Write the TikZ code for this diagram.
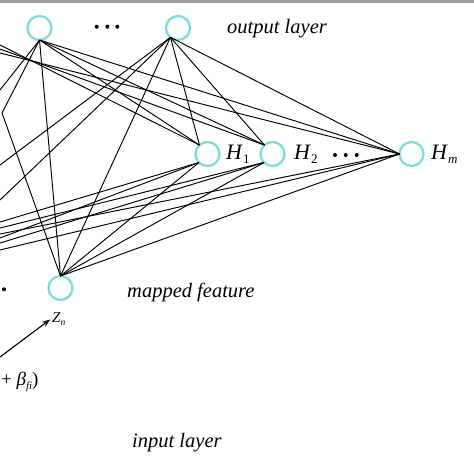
\documentclass[tikz,border=0pt]{standalone}
\usepackage{fontspec}
\setmainfont{Liberation Serif}
\usetikzlibrary{arrows.meta}
\definecolor{aqua}{RGB}{128,220,220}
\begin{document}
\begin{tikzpicture}[x=1pt,y=-1pt,
  neuron/.style={circle,draw=aqua,line width=2.3pt,minimum size=24pt,inner sep=0pt,outer sep=0pt,fill=white},
  conn/.style={line width=0.95pt,black},
  lbl/.style={font=\fontsize{20.5}{22}\selectfont\itshape,inner sep=0pt},
  hlbl/.style={font=\fontsize{22}{24}\selectfont,inner sep=0pt},
  dotmark/.style={black},
]
\useasboundingbox (0,0) rectangle (474,474);
\fill[white] (0,0) rectangle (474,474);
\fill[gray!75] (0,0) rectangle (474,2.5);
\clip (0,0) rectangle (474,474);
% neurons
\node[neuron] (O1) at (39.5,28) {};
\node[neuron] (O2) at (178,28) {};
\node[neuron] (H1) at (207.5,154) {};
\node[neuron] (H2) at (272.5,154) {};
\node[neuron] (Hm) at (411.5,154) {};
\node[neuron] (Zn) at (60.5,288) {};
% free ends at the picture's left edge
\coordinate (J) at (2,113);
\coordinate (L90) at (0,90);
\coordinate (E165) at (0,165);
\coordinate (E200) at (0,200);
\coordinate (T1) at (0,45);
\coordinate (T2) at (0,49);
\coordinate (T3) at (0,53);
\coordinate (B1) at (0,222);
\coordinate (B2) at (0,228);
\coordinate (B3) at (0,234);
\coordinate (B4) at (0,238);
\coordinate (B5) at (0,243);
\coordinate (B6) at (0,250);
% connectors
\foreach \a/\b in {O1.270/H1.132, O1.270/H2.132, O1.270/Hm.180, O1.270/Zn.90, O1.270/J, O1.270/L90,
  O2.231/H1.132, O2.231/H2.132, O2.231/Hm.180, O2.231/Zn.90, O2.231/E165, O2.231/E200,
  J/Zn.90, Zn.90/H1.225, Zn.90/H2.225, Zn.90/Hm.180,
  T1/H1.132, T2/H2.132, T3/Hm.180,
  B1/H1.225, B2/H2.225, B3/Hm.180, B4/H1.225, B5/H2.225, B6/Hm.180}
  \draw[conn] (\a) -- (\b);
% dots
\foreach \x/\y in {96.7/26.7, 107.3/26.7, 117.3/26.7, 335/155, 345.7/155, 356.7/155, 4/289.3}
  \fill[dotmark] (\x,\y) circle (2);
% labels
\node[lbl,anchor=base west] (outl) at (227,33) {output layer};
\node[lbl,anchor=base west] (mapl) at (127,297) {mapped feature};
\node[lbl,anchor=base west] (inl) at (132,447) {input layer};
\node[hlbl,anchor=base west] (h1l) at (226,159) {\textit{H}\raisebox{-4pt}{\fontsize{13}{13}\selectfont 1}};
\node[hlbl,anchor=base west] (h2l) at (294,159) {\textit{H}\raisebox{-4pt}{\fontsize{13}{13}\selectfont 2}};
\node[hlbl,anchor=base west] (hml) at (431,159) {\textit{H}\raisebox{-4pt}{\fontsize{13}{13}\selectfont\itshape m}};
\node[inner sep=0pt,anchor=base west,font=\fontsize{15}{17}\selectfont] (zl) at (52,322) {\textit{Z}\raisebox{-3pt}{\fontsize{9.5}{9.5}\selectfont\itshape n}};
\node[inner sep=0pt,anchor=base west,font=\fontsize{19}{21}\selectfont] (betal) at (1,385) {+ \textit{β}\raisebox{-4pt}{\fontsize{11}{11}\selectfont\itshape fi})};
\coordinate (A0) at (0,357);
\draw[line width=1.1pt,-{Stealth[length=8pt,width=6pt]}] (A0) -- ([xshift=-2pt,yshift=-1pt]zl.west);
\end{tikzpicture}
\end{document}
